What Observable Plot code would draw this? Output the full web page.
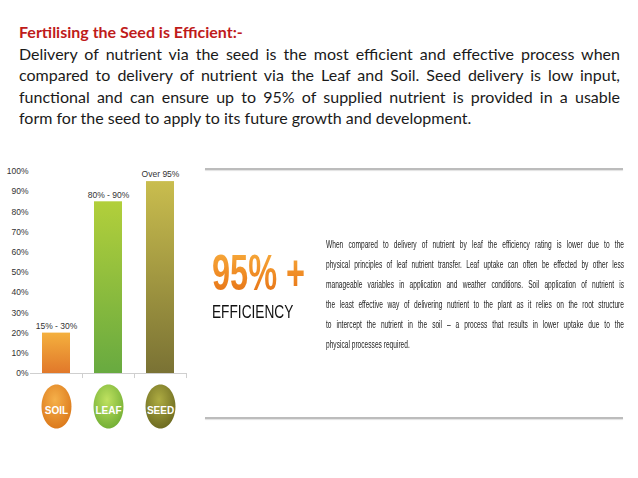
<!DOCTYPE html>
<html>
<head>
<meta charset="utf-8">
<script src="https://cdn.jsdelivr.net/npm/d3@7"></script>
<script src="https://cdn.jsdelivr.net/npm/@observablehq/plot@0.6"></script>
<style>
  html, body { margin: 0; padding: 0; background: #fff; }
  body { width: 638px; height: 478px; position: relative; overflow: hidden; }
  .abs { position: absolute; }
  #header { left: 19px; top: 21px; width: 601px; font-family: Lato, "Open Sans", sans-serif; font-size: 16px; line-height: 21.5px; color: #1a1a1a; }
  #header .title { color: #bf1b1b; font-weight: bold; }
  .jl { white-space: nowrap; text-align: justify; text-align-last: justify; }
  .last { text-align-last: left; }
  #para { left: 326px; top: 234px; font-family: "Liberation Sans", Arial, sans-serif; font-size: 11.5px; line-height: 20px; color: #222; transform-origin: 0 0; }
  #big { left: 212px; top: 248px; font-family: "Liberation Sans", Arial, sans-serif; font-weight: bold; font-size: 50px; line-height: 50px; white-space: nowrap; transform: scaleX(0.65); transform-origin: 0 0;
         background: linear-gradient(180deg, #f7ad3d 0%, #ef8a24 55%, #e36f14 100%); -webkit-background-clip: text; background-clip: text; color: transparent; }
  #eff { left: 212px; top: 302px; font-family: "Liberation Sans", Arial, sans-serif; font-size: 19px; line-height: 19px; white-space: nowrap; color: #111; transform: scaleX(0.72); transform-origin: 0 0; }
  .hline { left: 205px; width: 418px; height: 2px; background: #bcbcbc; box-shadow: 0 1px 1px rgba(0,0,0,0.12); }
  #chart { left: 0; top: 160px; }
  #chart svg text { font-family: "Liberation Sans", Arial, sans-serif; }
</style>
</head>
<body>
<div id="header" class="abs"></div>
<div class="abs hline" style="top:168px"></div>
<div class="abs hline" style="top:417px"></div>
<div id="big" class="abs">95% +</div>
<div id="eff" class="abs">EFFICIENCY</div>
<div id="para" class="abs"></div>
<div id="chart" class="abs"></div>
<script>
// ---- data ----
const categories = ["SOIL", "LEAF", "SEED"];
const values = [20, 85, 95];
const rangeLabels = ["15% - 30%", "80% - 90%", "Over 95%"];
const yTicks = [0, 10, 20, 30, 40, 50, 60, 70, 80, 90, 100];
const barTop = ["#f4b03e", "#b2cf3b", "#c9bd4e"];
const barBottom = ["#e1782a", "#68aa40", "#7a7234"];
const iconCenter = ["#f5b04a", "#bfe160", "#aeac42"];
const iconEdge = ["#dc7a1c", "#74b036", "#6e6c22"];

const titleText = "Fertilising the Seed is Efficient:-";
const headerLines = [
  "Delivery of nutrient via the seed is the most efficient and effective process when",
  "compared to delivery of nutrient via the Leaf and Soil. Seed delivery is low input,",
  "functional and can ensure up to 95% of supplied nutrient is provided in a usable",
  "form for the seed to apply to its future growth and development."
];
const paraLines = [
  "When compared to delivery of nutrient by leaf the efficiency rating is lower due to the",
  "physical principles of leaf nutrient transfer. Leaf uptake can often be effected by other less",
  "manageable variables in application and weather conditions. Soil application of nutrient is",
  "the least effective way of delivering nutrient to the plant as it relies on the root structure",
  "to intercept the nutrient in the soil – a process that results in lower uptake due to the",
  "physical processes required."
];

// ---- header text ----
const header = document.getElementById("header");
const t = document.createElement("div");
t.className = "title";
t.textContent = titleText;
header.appendChild(t);
headerLines.forEach((s, i) => {
  const d = document.createElement("div");
  d.className = "jl" + (i === headerLines.length - 1 ? " last" : "");
  d.textContent = s;
  header.appendChild(d);
});

// ---- right paragraph ----
const paraScale = 0.575, paraWidth = 298;
const para = document.getElementById("para");
para.style.width = (paraWidth / paraScale) + "px";
para.style.transform = `scaleX(${paraScale})`;
paraLines.forEach((s, i) => {
  const d = document.createElement("div");
  d.className = "jl" + (i === paraLines.length - 1 ? " last" : "");
  d.textContent = s;
  para.appendChild(d);
});

// ---- chart ----
const data = categories.map((c, i) => ({
  cat: c, value: values[i], label: rangeLabels[i],
  fill: `url(#bar-${i})`, icon: `url(#icon-${i})`
}));

const oval = {
  draw(ctx, size) {
    const r = Math.sqrt(size / Math.PI), rx = r * 0.68, ry = r, k = 0.5523;
    ctx.moveTo(0, -ry);
    ctx.bezierCurveTo(k * rx, -ry, rx, -k * ry, rx, 0);
    ctx.bezierCurveTo(rx, k * ry, k * rx, ry, 0, ry);
    ctx.bezierCurveTo(-k * rx, ry, -rx, k * ry, -rx, 0);
    ctx.bezierCurveTo(-rx, -k * ry, -k * rx, -ry, 0, -ry);
    ctx.closePath();
  }
};

const chart = Plot.plot({
  width: 200,
  height: 275,
  marginLeft: 30,
  marginRight: 14,
  marginTop: 11,
  marginBottom: 62,
  style: { background: "transparent", color: "#333", fontSize: "8.5px" },
  x: { domain: categories, paddingInner: 0.46, paddingOuter: 0.23, axis: null },
  y: { domain: [0, 100], ticks: yTicks, tickFormat: d => d + "%", tickSize: 0, tickPadding: 2, label: null },
  color: { type: "identity" },
  marks: [
    Plot.barY(data, { x: "cat", y: "value", fill: "fill" }),
    Plot.ruleY([0], { stroke: "#cfcfcf" }),
    Plot.ruleX(categories, { x: d => d, dx: 26, y1: 0, y2: -2.5, stroke: "#cfcfcf" }),
    Plot.text(data, { x: "cat", y: "value", text: "label", dy: -7, fontSize: 8.5, fill: "#333" }),
    Plot.dot(data, { x: "cat", frameAnchor: "bottom", dy: 33, r: 22, symbol: oval, fill: "icon" }),
    Plot.text(data, { x: "cat", frameAnchor: "bottom", dy: 40, text: "cat", fill: "white", fontWeight: "bold", fontSize: 10 })
  ]
});

const svg = d3.select(chart);
const defs = svg.insert("defs", ":first-child");
categories.forEach((c, i) => {
  const lg = defs.append("linearGradient").attr("id", `bar-${i}`)
    .attr("x1", 0).attr("y1", 0).attr("x2", 0).attr("y2", 1);
  lg.append("stop").attr("offset", "0%").attr("stop-color", barTop[i]);
  lg.append("stop").attr("offset", "100%").attr("stop-color", barBottom[i]);
  const rg = defs.append("radialGradient").attr("id", `icon-${i}`)
    .attr("cx", "45%").attr("cy", "35%").attr("r", "65%");
  rg.append("stop").attr("offset", "0%").attr("stop-color", iconCenter[i]);
  rg.append("stop").attr("offset", "100%").attr("stop-color", iconEdge[i]);
});

document.getElementById("chart").appendChild(chart);
</script>
</body>
</html>
